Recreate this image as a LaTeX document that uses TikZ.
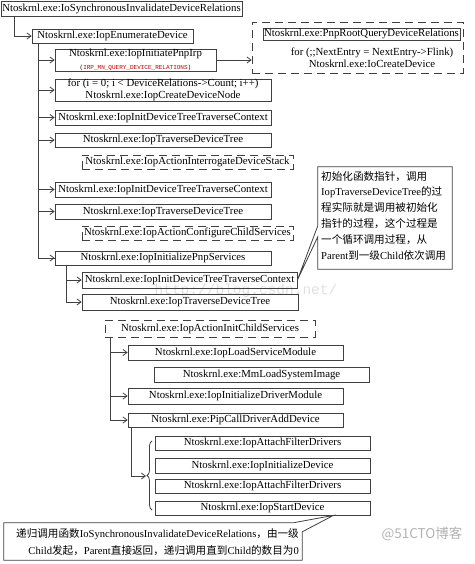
\documentclass[tikz,border=0pt]{standalone}
\usepackage{fontspec}
\setmainfont{Liberation Serif}
\setmonofont{Liberation Mono}
\newfontfamily\cjk{Noto Sans CJK SC}
\usetikzlibrary{arrows.meta,calc,decorations.pathreplacing}
\newcommand\zh[1]{{\cjk #1}}
\begin{document}
\begin{tikzpicture}[x=1pt,y=-1pt,
 every node/.style={font=\fontsize{10.8}{12}\selectfont, inner sep=0pt},
 box/.style={draw=black!75, line width=0.8pt, rectangle, align=center},
 dbox/.style={box, dash pattern=on 8pt off 5pt},
 arr/.style={draw=black!75, line width=0.8pt, -{Straight Barb[length=4pt,width=6pt]}},
 ln/.style={draw=black!75, line width=0.8pt},
 wm/.style={text=black!12, font=\fontsize{14.5}{16}\selectfont\ttfamily}]
\useasboundingbox (0,0) rectangle (474,564);
% watermarks
\node[wm] (wm1) at (246,291) {http://blog.csdn.net/};
\node[text=black!30, font=\fontsize{13.5}{15}\selectfont\cjk] (wm2) at (422,534) {@51CTO博客};

% boxes
\node[box, minimum width=241, minimum height=15] (top) at (121.5,8.5) {Ntoskrnl.exe:IoSynchronousInvalidateDeviceRelations};
\node[box, minimum width=161, minimum height=14] (enum) at (112.5,36) {Ntoskrnl.exe:IopEnumerateDevice};
\node[box, minimum width=161, minimum height=22] (irp) at (135.5,60) {Ntoskrnl.exe:IopInitiatePnpIrp\\[0.5pt]{\fontsize{6}{7}\selectfont\ttfamily (\textcolor{red!75!black}{IRP\_MN\_QUERY\_DEVICE\_RELATIONS})}};
\node[box, minimum width=216, minimum height=22] (forl) at (163,90) {for (i = 0; i < DeviceRelations->Count; i++)\\Ntoskrnl.exe:IopCreateDeviceNode};
\node[box, minimum width=216, minimum height=15] (init1) at (163,117.5) {Ntoskrnl.exe:IopInitDeviceTreeTraverseContext};
\node[box, minimum width=216, minimum height=14] (trav1) at (163,140) {Ntoskrnl.exe:IopTraverseDeviceTree};
\node[dbox, minimum width=211, minimum height=14] (inter) at (187.5,162) {Ntoskrnl.exe:IopActionInterrogateDeviceStack};
\node[box, minimum width=216, minimum height=15] (init2) at (163,189.5) {Ntoskrnl.exe:IopInitDeviceTreeTraverseContext};
\node[box, minimum width=216, minimum height=15] (trav2) at (163,211.5) {Ntoskrnl.exe:IopTraverseDeviceTree};
\node[dbox, minimum width=211, minimum height=14] (conf) at (187.5,233) {Ntoskrnl.exe:IopActionConfigureChildServices};
\node[box, minimum width=216, minimum height=14] (pnp) at (163,258) {Ntoskrnl.exe:IopInitializePnpServices};
\node[box, minimum width=215, minimum height=16] (init3) at (189.5,280) {Ntoskrnl.exe:IopInitDeviceTreeTraverseContext};
\node[box, minimum width=216, minimum height=16] (trav3) at (190,302) {Ntoskrnl.exe:IopTraverseDeviceTree};
\node[dbox, minimum width=210, minimum height=17] (ics) at (210,328.5) {Ntoskrnl.exe:IopActionInitChildServices};
\node[box, minimum width=215, minimum height=15] (lsm) at (235.5,352.5) {Ntoskrnl.exe:IopLoadServiceModule};
\node[box, minimum width=215, minimum height=15] (mm) at (261.5,374.5) {Ntoskrnl.exe:MmLoadSystemImage};
\node[box, minimum width=215, minimum height=16] (idm) at (235.5,396) {Ntoskrnl.exe:IopInitializeDriverModule};
\node[box, minimum width=215, minimum height=14] (pip) at (235.5,420) {Ntoskrnl.exe:PipCallDriverAddDevice};
\node[box, minimum width=215, minimum height=14] (af1) at (262.5,443) {Ntoskrnl.exe:IopAttachFilterDrivers};
\node[box, minimum width=215, minimum height=15] (idv) at (262.5,465.5) {Ntoskrnl.exe:IopInitializeDevice};
\node[box, minimum width=215, minimum height=14] (af2) at (262.5,486) {Ntoskrnl.exe:IopAttachFilterDrivers};
\node[box, minimum width=215, minimum height=14] (sd) at (262.5,508) {Ntoskrnl.exe:IopStartDevice};

% top-right dashed group
\node[dbox, minimum width=211, minimum height=51] (rqo) at (357.5,47.5) {};
\node[box, minimum width=197, minimum height=12] (rq) at (361.5,34) {Ntoskrnl.exe:PnpRootQueryDeviceRelations};
\node[align=center] (rqt) at (372,57.5) {for (;;NextEntry = NextEntry->Flink)\\Ntoskrnl.exe:IoCreateDevice};

% connectors
\draw[arr] ([xshift=14pt]top.south west) |- (enum.west);
\draw[ln] ([xshift=7pt]enum.south west) |- (pnp.west);
\foreach \n in {irp,forl,init1,trav1,init2,trav2,pnp}
  \draw[arr] ([xshift=7pt]enum.south west) |- (\n.west);
\draw[arr] (irp.east) -- (irp.east -| rqo.west);
\foreach \n in {init3,trav3}
  \draw[arr] ([xshift=12pt]pnp.south west) |- (\n.west);
\foreach \n in {lsm,idm,pip}
  \draw[arr] ([xshift=6pt]ics.south west) |- (\n.west);
\draw[ln, decorate, decoration={brace, amplitude=5pt}] (152,510) -- (152,441);
\coordinate (bt) at (146,476);
\draw[arr] ([xshift=4pt]pip.south west) |- (bt);

% callout 2
\node[minimum width=134, minimum height=102] (c2) at (385,218) {};
\draw[ln, fill=white] (c2.north west) -- (c2.north east) -- (c2.south east) -- (c2.south west)
  -- ($(c2.north west)+(0,70)$) -- (init3.east) -- ($(c2.north west)+(0,59)$) -- cycle;
\node[anchor=north west, align=left, font=\fontsize{10.6}{15.8}\selectfont] (c2t) at (321,171)
 {\zh{初始化函数指针，调用}\\
  IopTraverseDeviceTree\zh{的过}\\
  \zh{程实际就是调用被初始化}\\
  \zh{指针的过程，这个过程是}\\
  \zh{一个循环调用过程，从}\\
  Parent\zh{到一级}Child\zh{依次调用}};

% callout 3
\node[minimum width=298, minimum height=37] (c3) at (153,541.5) {};
\draw[ln, fill=white] (c3.north west) -- ($(c3.north east)+(-9,0)$) -- ($(sd.south east)+(-37,0)$)
  -- ($(c3.north east)+(0,9)$) -- (c3.south east) -- (c3.south west) -- cycle;
\node[anchor=east, align=right, font=\fontsize{10.6}{17}\selectfont] (c3t) at (299,542)
 {\zh{递归调用函数}IoSynchronousInvalidateDeviceRelations\zh{，由一级}\\
  Child\zh{发起，}Parent\zh{直接返回，递归调用直到}Child\zh{的数目为}0};
\end{tikzpicture}
\end{document}
